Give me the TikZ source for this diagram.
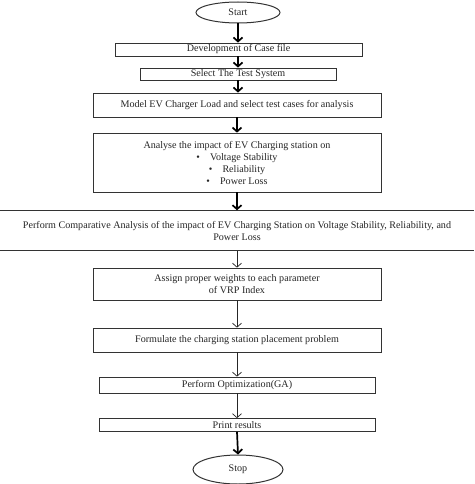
\documentclass[tikz,border=0pt]{standalone}
\usepackage{fontspec}
\setmainfont{Liberation Serif}
\usetikzlibrary{shapes.geometric,arrows.meta}
\begin{document}
\begin{tikzpicture}[x=1pt,y=-1pt,
  every node/.style={font=\fontsize{10.1}{12}\selectfont, inner sep=0pt, text=black!85},
  procbox/.style={draw=black!80, line width=0.8pt, rectangle, align=center},
  flatbox/.style={rectangle, align=center},
  term/.style={draw=black!80, line width=1pt, ellipse},
  thickarrow/.style={draw=black, line width=1.7pt, -{Straight Barb[length=4pt,width=9pt]}},
  thinarrow/.style={draw=black!85, line width=0.7pt, -{Straight Barb[length=4pt,width=9pt]}}
]
\useasboundingbox (0,0) rectangle (474,484);
\fill[white] (0,0) rectangle (474,484);

\node[term, minimum width=84pt, minimum height=21pt] (start) at (238,12.5) {Start};
\node[procbox, minimum width=247pt, minimum height=13pt] (b1) at (238.5,49.5) {Development of Case file};
\node[procbox, minimum width=196pt, minimum height=12pt] (b2) at (238,74) {Select The Test System};
\node[procbox, minimum width=288pt, minimum height=24pt] (b3) at (237,105) {Model EV Charger Load and select test cases for analysis};
\node[procbox, minimum width=288pt, minimum height=59pt, line width=0.7pt] (b4) at (237,162.5) {Analyse the impact of EV Charging station on\\
  \textbullet\hspace{1em}Voltage Stability\\
  \textbullet\hspace{1em}Reliability\\
  \textbullet\hspace{1em}Power Loss};
\node[flatbox, minimum width=474pt, minimum height=40pt] (b5) at (237,230.5) {Perform Comparative Analysis of the impact of EV Charging Station on Voltage Stability, Reliability, and\\Power Loss};
\draw[black!80, line width=0.8pt] (b5.north west) -- (b5.north east);
\draw[black!80, line width=0.8pt] (b5.south west) -- (b5.south east);
\node[procbox, minimum width=288pt, minimum height=32pt, line width=0.7pt] (b6) at (237,284) {Assign proper weights to each parameter\\of VRP Index};
\node[procbox, minimum width=288pt, minimum height=24pt, line width=0.7pt] (b7) at (237,340) {Formulate the charging station placement problem};
\node[procbox, minimum width=276pt, minimum height=16pt, line width=0.7pt] (b8) at (237,385) {Perform Optimization(GA)};
\node[procbox, minimum width=276pt, minimum height=13pt, line width=0.7pt] (b9) at (237,425) {Print results};
\node[term, minimum width=90pt, minimum height=29pt] (stop) at (238,469.5) {Stop};

\draw[thickarrow] (start.south) -- (b1.north -| start.south);
\draw[thickarrow] (b1.south -| start.south) -- (b2.north -| start.south);
\draw[thickarrow] (b2.south -| start.south) -- (b3.north -| start.south);
\draw[thickarrow] (b3.south) -- (b4.north);
\draw[thickarrow] (b4.south) -- (b5.north);
\draw[thinarrow] (b5.south) -- (b6.north);
\draw[thinarrow] (b6.south) -- (b7.north);
\draw[thinarrow] (b7.south) -- (b8.north);
\draw[thinarrow] (b8.south) -- (b9.north);
\draw[thickarrow] (b9.south) -- (stop.north);
\end{tikzpicture}
\end{document}
